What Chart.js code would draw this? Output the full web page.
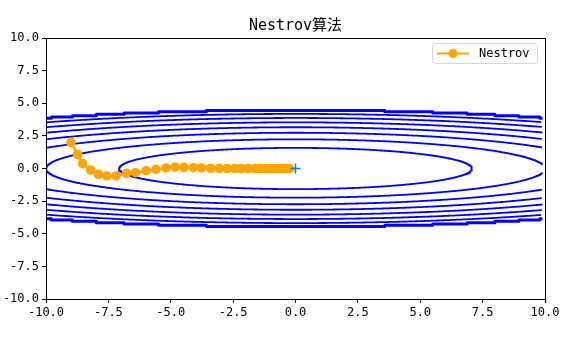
<!DOCTYPE html>
<html>
<head>
<meta charset="utf-8">
<script src="https://cdn.jsdelivr.net/npm/chart.js@4/dist/chart.umd.min.js"></script>
<style>
  html, body { margin: 0; padding: 0; background: #fff; }
  #wrap { width: 570px; height: 338px; }
</style>
</head>
<body>
<div id="wrap"><canvas id="nestrovChart" width="570" height="338"></canvas></div>
<script>
// ============================= data

const titleText = 'Nestrov算法';
const seriesName = 'Nestrov';

// optimizer path
const pathX = [-9.0, -8.73, -8.53, -8.21, -7.90, -7.56, -7.19, -6.77, -6.41, -5.99,
               -5.59, -5.19, -4.83, -4.47, -4.09, -3.77, -3.40, -3.06, -2.74, -2.44,
               -2.17, -1.90, -1.62, -1.39, -1.18, -0.98, -0.78, -0.62, -0.46, -0.33, -0.24];
const pathY = [2.0, 1.08, 0.37, -0.11, -0.44, -0.57, -0.57, -0.37, -0.32, -0.17,
               -0.06, 0.04, 0.11, 0.09, 0.06, 0.04, 0.02, 0.01, 0, 0,
               0, 0, 0, 0, 0, 0, 0, 0, 0, 0, 0];

// minimum marker
const minX = [0];
const minY = [0];

// contour levels of f(x, y) = x^2/20 + y^2, values above maskLevel were set to 0
const contourLevels = [2.5, 5, 7.5, 10, 12.5, 15, 17.5];
const maskLevel = 20;
const gridStepY = 0.1;
const gridMaxX = 9.9;

const tickValues = [-10, -7.5, -5, -2.5, 0, 2.5, 5, 7.5, 10];
const tickLabels = ['-10.0', '-7.5', '-5.0', '-2.5', '0.0', '2.5', '5.0', '7.5', '10.0'];


// ============================= contour geometry

function ellipseArc(level, sign) {
    const a = Math.sqrt(20 * level), b = Math.sqrt(level);
    const pts = [];
    for (let i = 0; i <= 720; i++) {
        const t = Math.PI * i / 720;
        const x = a * Math.cos(t);
        if (x < -10 || x > gridMaxX) continue;
        pts.push({ x: x, y: sign * b * Math.sin(t) });
    }
    return pts;
}

// where the masked values start, the levels bunch into a stepped band
function maskEdge(sign) {
    const pts = [];
    let prev = null;
    for (let i = 0; i <= 1990; i++) {
        const x = -10 + i * 0.01;
        const yb = Math.floor(Math.sqrt(maskLevel - x * x / 20) / gridStepY + 1e-9) * gridStepY;
        const y = sign * (yb + gridStepY / 2);
        if (prev === null || Math.abs(prev - y) > 1e-9 || i === 1990) {
            if (prev !== null && Math.abs(prev - y) > 1e-9) pts.push({ x: x, y: prev });
            pts.push({ x: x, y: y });
            prev = y;
        }
    }
    return pts;
}

const contourSets = [];
contourLevels.forEach(lv => {
    [1, -1].forEach(s => {
        contourSets.push({
            data: ellipseArc(lv, s),
            borderColor: '#0000ff', borderWidth: 1.8,
            pointRadius: 0, showLine: true, order: 3
        });
    });
});
[1, -1].forEach(s => {
    contourSets.push({
        data: maskEdge(s),
        borderColor: '#0000ff', borderWidth: 3,
        borderJoinStyle: 'round',
        pointRadius: 0, showLine: true, order: 3
    });
});


// ============================= chart

const plotFont = "'DejaVu Sans Mono', 'Noto Sans CJK SC', monospace";
Chart.defaults.font.family = plotFont;
Chart.defaults.font.size = 12;
Chart.defaults.color = '#000';

const decorations = {
    id: 'decorations',
    afterDatasetsDraw(chart) {
        const { ctx, chartArea: a } = chart;
        ctx.save();
        // frame
        ctx.strokeStyle = '#000';
        ctx.lineWidth = 1;
        ctx.strokeRect(Math.round(a.left) + 0.5, Math.round(a.top) + 0.5,
                       Math.round(a.right - a.left), Math.round(a.bottom - a.top));
        // title
        ctx.fillStyle = '#000';
        ctx.font = '15px ' + plotFont;
        ctx.textAlign = 'center';
        ctx.textBaseline = 'middle';
        ctx.fillText(titleText, (a.left + a.right) / 2, 26);
        // legend
        const bx = 432, by = 43, bw = 105, bh = 20;
        ctx.beginPath();
        ctx.roundRect(bx + 0.5, by + 0.5, bw, bh, 3);
        ctx.fillStyle = 'rgba(255,255,255,0.8)';
        ctx.fill();
        ctx.strokeStyle = '#d6d6d6';
        ctx.stroke();
        ctx.strokeStyle = 'orange';
        ctx.lineWidth = 2;
        ctx.beginPath();
        ctx.moveTo(437, 53.5);
        ctx.lineTo(469, 53.5);
        ctx.stroke();
        ctx.fillStyle = 'orange';
        ctx.beginPath();
        ctx.arc(453, 53.5, 4.5, 0, Math.PI * 2);
        ctx.fill();
        ctx.fillStyle = '#000';
        ctx.font = '12px ' + plotFont;
        ctx.textAlign = 'left';
        ctx.fillText(seriesName, 479, 54);
        ctx.restore();
    }
};

const axisCommon = {
    type: 'linear',
    min: -10,
    max: 10,
    afterBuildTicks: (axis) => { axis.ticks = tickValues.map(v => ({ value: v })); },
    ticks: {
        padding: 3,
        autoSkip: false,
        maxRotation: 0,
        callback: (v) => tickLabels[tickValues.indexOf(v)]
    },
    grid: { drawOnChartArea: false, drawTicks: true, tickLength: 4, color: '#000', lineWidth: 1 },
    border: { display: false }
};

const ctx = document.getElementById('nestrovChart').getContext('2d');
const nestrovChart = new Chart(ctx, {
    type: 'scatter',
    data: {
        datasets: [
            {
                label: seriesName,
                data: pathX.map((x, i) => ({ x: x, y: pathY[i] })),
                borderColor: 'orange',
                backgroundColor: 'orange',
                borderWidth: 2.5,
                showLine: true,
                pointRadius: 4.8,
                pointBorderWidth: 0,
                order: 2
            },
            {
                label: 'min',
                data: minX.map((x, i) => ({ x: x, y: minY[i] })),
                borderColor: '#1f77b4',
                pointStyle: 'cross',
                pointRadius: 5,
                pointBorderWidth: 1.5,
                showLine: false,
                order: 1
            },
            ...contourSets
        ]
    },
    options: {
        responsive: false,
        animation: false,
        devicePixelRatio: 1,
        layout: { padding: { top: 38, right: 25, left: 0, bottom: 0 } },
        plugins: {
            legend: { display: false },
            title: { display: false },
            tooltip: { enabled: false }
        },
        scales: {
            x: Object.assign({}, axisCommon, {
                afterFit: (scale) => { scale.height = 39; }
            }),
            y: Object.assign({}, axisCommon, {
                afterFit: (scale) => { scale.width = 46; }
            })
        }
    },
    plugins: [decorations]
});
</script>
</body>
</html>
